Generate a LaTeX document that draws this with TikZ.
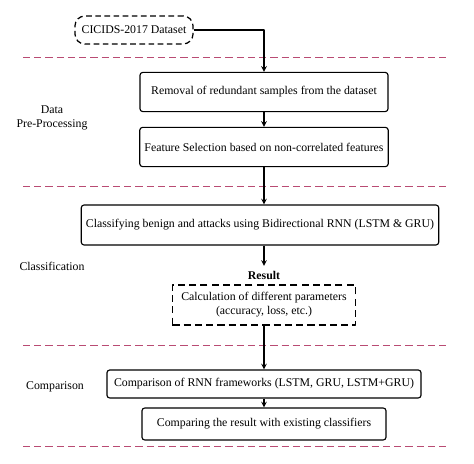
\documentclass[tikz,border=0pt]{standalone}
\usepackage{fontspec}
\setmainfont{Liberation Serif}
\definecolor{sepline}{RGB}{185,75,115}
\tikzset{
  stepbox/.style={draw, rounded corners=2pt, line width=0.8pt, minimum height=0.98cm, align=center},
  databox/.style={draw, rounded corners=7pt, dashed, line width=0.9pt, dash pattern=on 4pt off 2.5pt, minimum width=2.95cm, minimum height=0.7cm},
  resbox/.style={draw, dashed, line width=1.1pt, dash pattern=on 5pt off 3pt, minimum width=4.575cm, minimum height=1cm, align=center},
  sidelbl/.style={align=center}
}
\begin{document}
\begin{tikzpicture}[x=0.025cm, y=-0.025cm, >=stealth, font=\fontsize{8.4}{9.8}\selectfont, line join=round]
\useasboundingbox (0,0) rectangle (474,464);
% separators
\foreach \y in {57,186,345,446}
  \draw[sepline, line width=0.6pt, dash pattern=on 5pt off 3pt] (23,\y) -- (450,\y);
% boxes
\node[databox] (data) at (134,30) {CICIDS-2017 Dataset};
\node[stepbox, minimum width=6.2cm] (removal) at (264,92) {Removal of redundant samples from the dataset};
\node[stepbox, minimum width=6.2cm] (featsel) at (264,147) {Feature Selection based on non-correlated features};
\node[stepbox, minimum width=8.8cm, minimum height=1cm] (classify) at (260,225) {Classifying benign and attacks using Bidirectional RNN (LSTM \& GRU)};
\node[font=\fontsize{8.4}{9.8}\selectfont\bfseries] (result) at (264,275) {Result};
\node[resbox] (params) at (264,305) {Calculation of different parameters\\(accuracy, loss, etc.)};
\node[stepbox, minimum width=7.85cm, minimum height=0.7cm] (rnncomp) at (264,384) {Comparison of RNN frameworks (LSTM, GRU, LSTM+GRU)};
\node[stepbox, minimum width=6.1cm, minimum height=0.8cm] (clscomp) at (264,424) {Comparing the result with existing classifiers};
% side labels
\node[sidelbl] (lblpre) at (52,118) {Data\\Pre-Processing};
\node[sidelbl] (lblcls) at (52,266) {Classification};
\node[sidelbl] (lblcmp) at (55,387) {Comparison};
% arrows
\draw[->, line width=0.8pt] (data.east) -| (removal.north);
\draw[->, line width=0.8pt] (removal) -- (featsel);
\draw[->, line width=0.8pt] (featsel.south) -- (featsel.south |- classify.north);
\draw[->, line width=0.8pt] (classify.south -| result) -- (result.north);
\draw[->, line width=0.8pt] (params) -- (rnncomp);
\draw[->, line width=0.8pt] (rnncomp) -- (clscomp);
\end{tikzpicture}
\end{document}
